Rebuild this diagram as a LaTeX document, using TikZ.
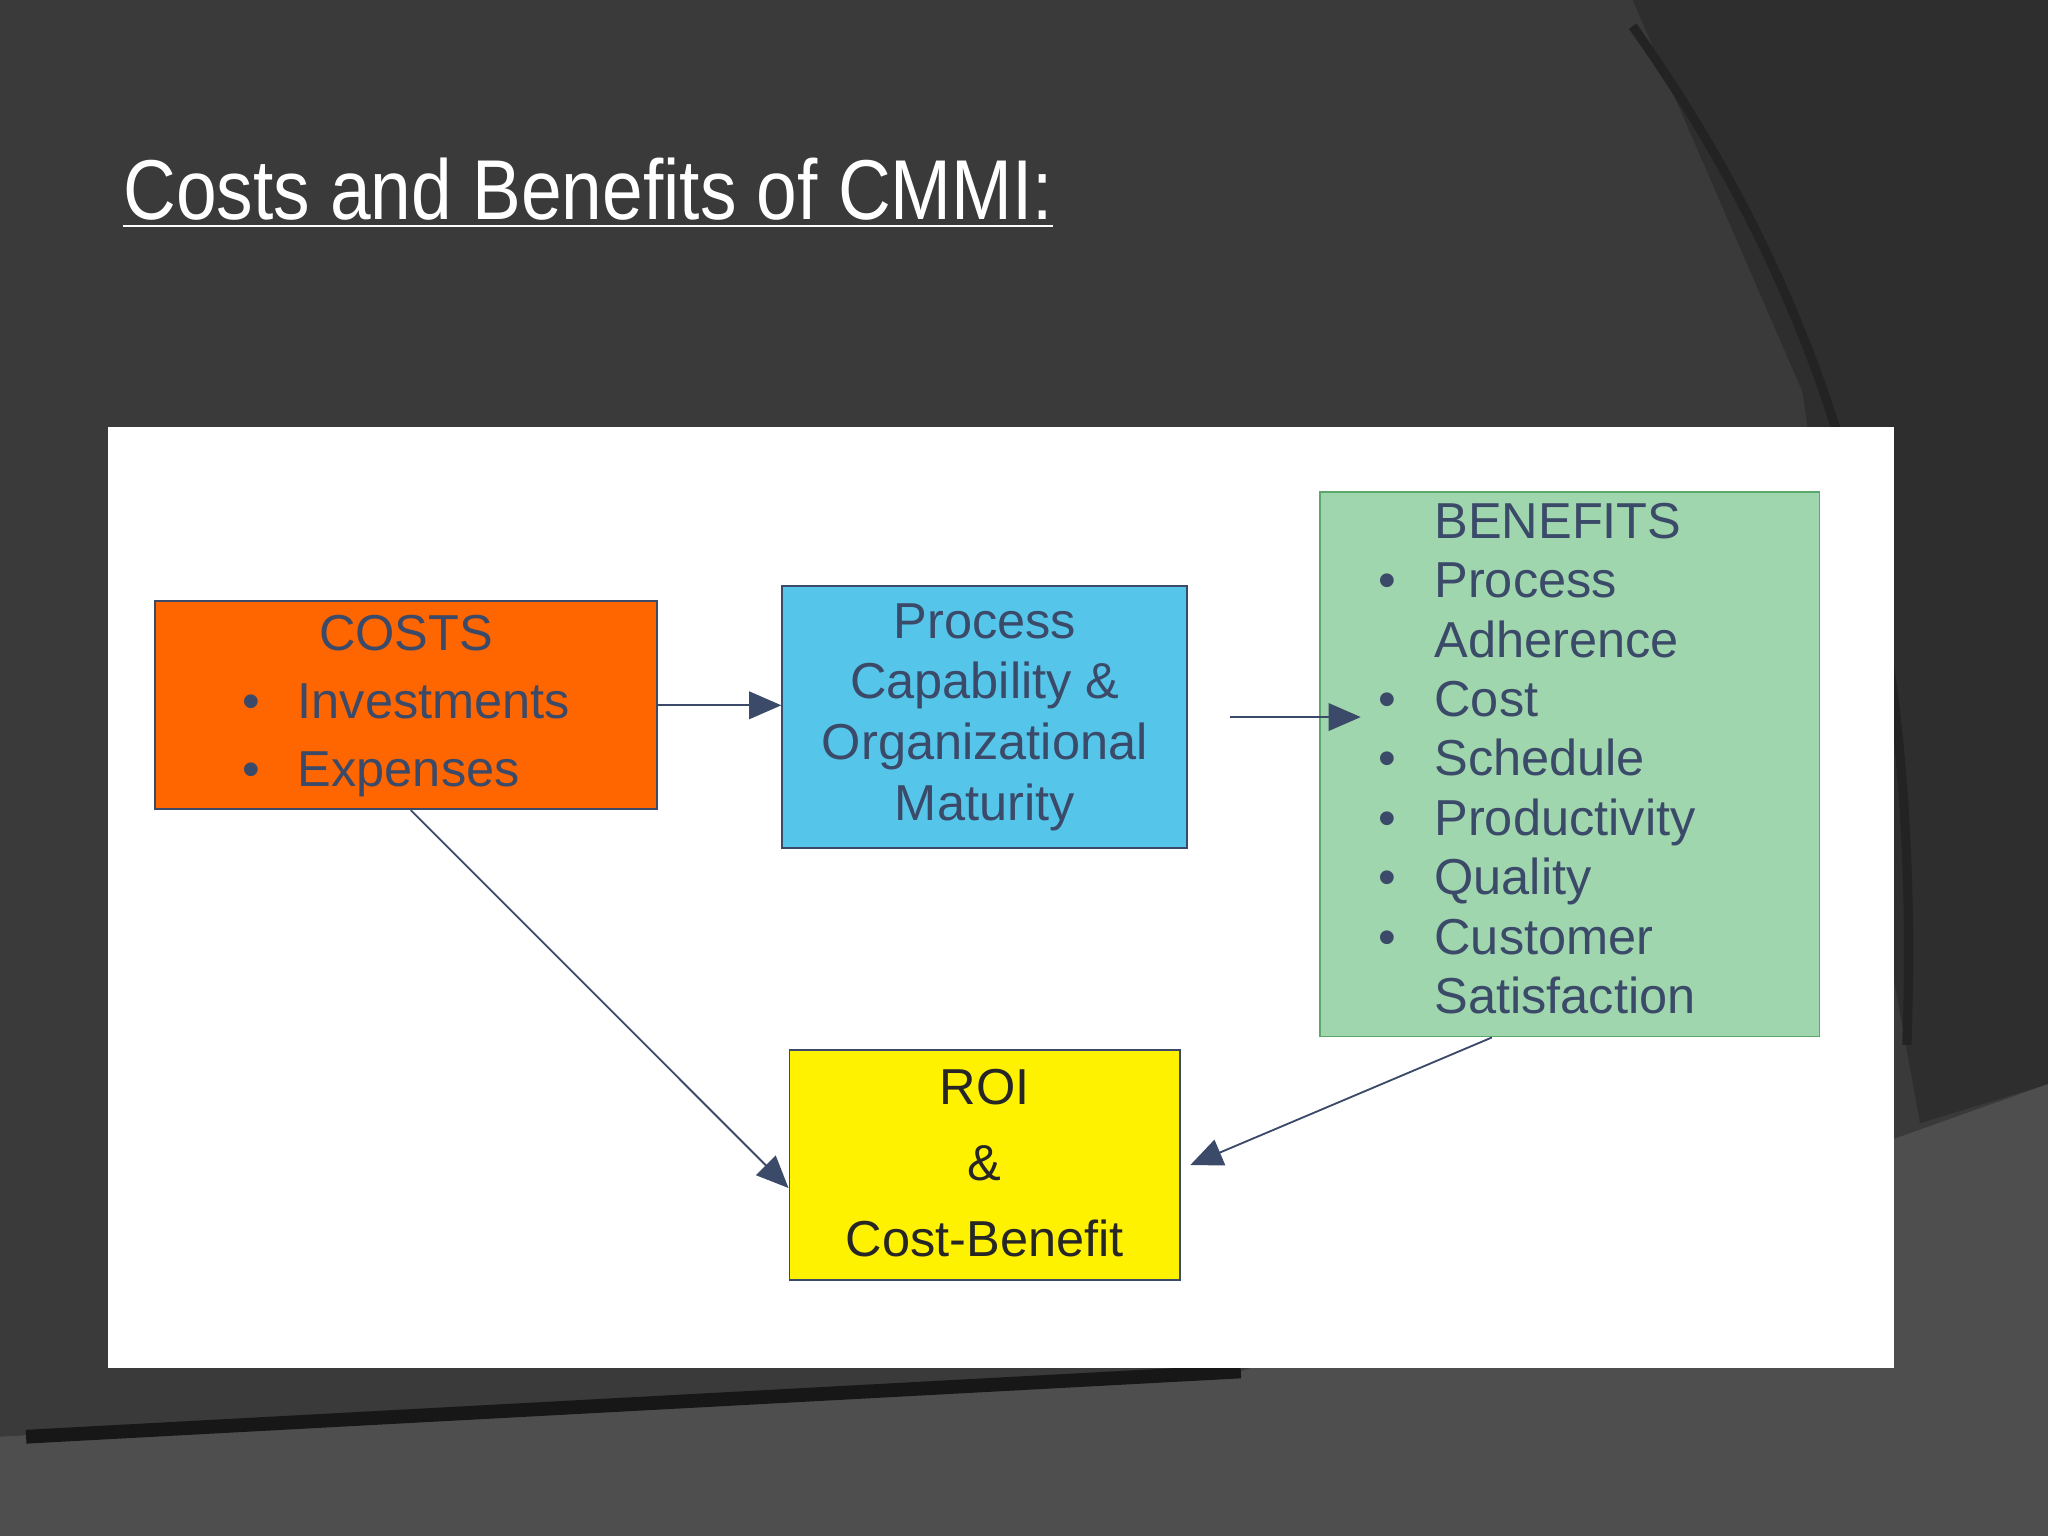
\documentclass[tikz,border=0pt]{standalone}
\usepackage{fontspec}
\setmainfont{Liberation Sans}
\usetikzlibrary{arrows.meta}
\definecolor{slide}{HTML}{3A3A3A}
\definecolor{ink}{HTML}{3B4A68}
\definecolor{costor}{HTML}{FF6600}
\definecolor{procbl}{HTML}{56C5EA}
\definecolor{benegr}{HTML}{A0D6AE}
\definecolor{benebd}{HTML}{5BA86A}
\tikzset{
  box/.style={rectangle, draw=ink, text=ink, align=center, inner sep=0pt,
    font=\fontsize{11}{13.2}\selectfont},
  arrow/.style={ink, thin, -{Triangle[length=7pt, width=6pt]}}
}
\begin{document}
\begin{tikzpicture}[x=0.01cm, y=-0.01cm]
\useasboundingbox (0,0) rectangle (1568,1176);
% background
\fill[slide] (0,0) rectangle (1568,1176);
\fill[black!20!slide] (1250,0) -- (1568,0) -- (1568,830) -- (1470,860) -- (1430,640) -- (1380,300) -- cycle;
\fill[white!10!slide] (0,1100) -- (950,1050) -- (1568,830) -- (1568,1176) -- (0,1176) -- cycle;
\draw[black!40!slide, line width=2pt] (1250,20) .. controls (1420,260) and (1470,500) .. (1460,800);
\draw[black!60!slide, line width=3pt] (20,1100) -- (950,1050);
% title
\node[anchor=west, text=white, font=\fontsize{18.5}{22}\selectfont] (title) at (82,148)
  {\scalebox{0.86}[1]{\underline{Costs and Benefits of CMMI:}}};
% panel
\fill[white] (83,327) rectangle (1450,1047);
% boxes
\node[box, fill=costor, minimum width=3.84cm, minimum height=1.59cm] (costs) at (311,540)
  {\renewcommand{\arraystretch}{1.12}\begin{tabular}{@{}l@{\hspace{0.75em}}l@{}}
   \multicolumn{2}{c}{COSTS}\\ \textbullet & Investments\\ \textbullet & Expenses\end{tabular}};
\node[box, fill=procbl, minimum width=3.10cm, minimum height=2.00cm] (proc) at (754,549)
  {Process\\ Capability \&\\ Organizational\\ Maturity};
\node[box, draw=benebd, fill=benegr, minimum width=3.82cm, minimum height=4.17cm] (bene) at (1202,585)
  {\hspace*{-0.5cm}\renewcommand{\arraystretch}{0.98}\begin{tabular}{@{}l@{\hspace{0.75em}}l@{}}
   & BENEFITS\\ \textbullet & Process\\ & Adherence\\ \textbullet & Cost\\
   \textbullet & Schedule\\ \textbullet & Productivity\\ \textbullet & Quality\\
   \textbullet & Customer\\ & Satisfaction\end{tabular}};
\node[box, fill=yellow, text=black!85, minimum width=2.99cm, minimum height=1.76cm] (roi) at (754,892)
  {\renewcommand{\arraystretch}{1.25}\begin{tabular}{@{}c@{}}ROI\\ \&\\ Cost-Benefit\end{tabular}};
% connectors
\draw[arrow] (costs.east) -- (costs.east -| proc.west);
\draw[arrow] ([xshift=9pt]proc.east) -- ([xshift=9pt]proc.east -| bene.west);
\draw[arrow] ([xshift=1pt]costs.south) -- ([yshift=-5pt]roi.west);
\draw[arrow] ([xshift=-17pt]bene.south) -- ([xshift=2pt]roi.east);
\end{tikzpicture}
\end{document}
